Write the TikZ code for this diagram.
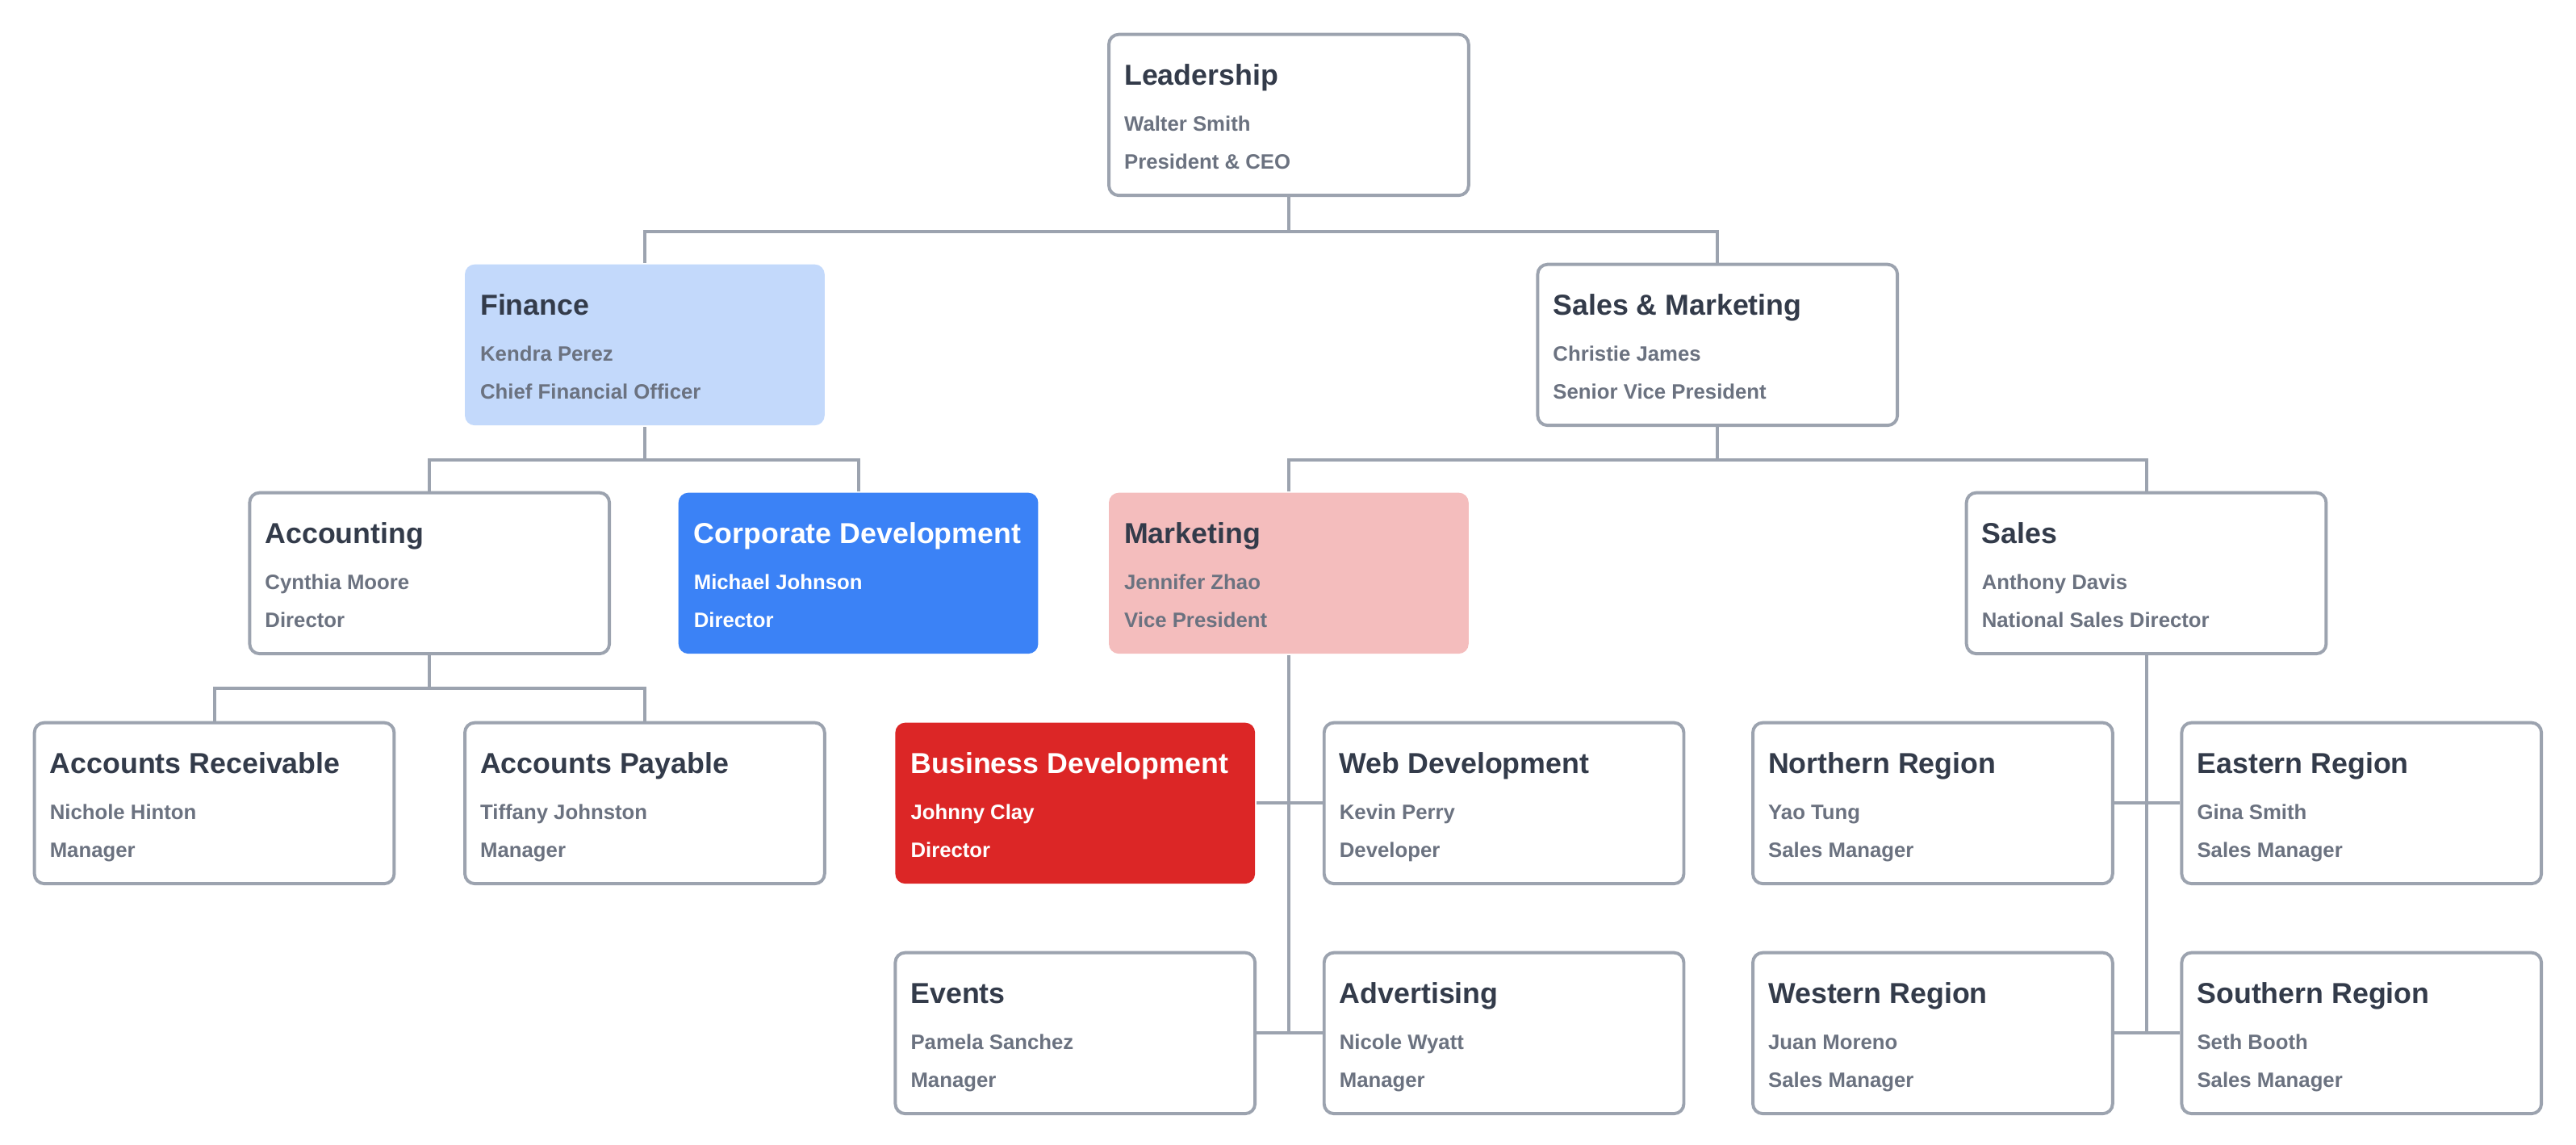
\documentclass[tikz,border=0pt]{standalone}
\usepackage{fontspec}
\setmainfont{Liberation Sans}
\usepackage{tikz}
\usetikzlibrary{positioning}

\definecolor{edge}{HTML}{9CA3AF}
\definecolor{ink}{HTML}{333B4A}
\definecolor{muted}{HTML}{6B7280}
\definecolor{finblue}{HTML}{C3D9FB}
\definecolor{corpblue}{HTML}{3B82F6}
\definecolor{mktpink}{HTML}{F4BDBD}
\definecolor{bizred}{HTML}{DC2626}

% #1 text style, #2 name, #3 box style, #4 position, #5 unit, #6 person, #7 role
\newcommand{\orgbox}[7][]{%
  \node[#3] (#2) at #4 {};
  \node[unitname, #1] (#2-u) at ([shift={(10,32)}]#2.north west) {#5};
  \node[person, #1] (#2-p) at ([shift={(10,60)}]#2.north west) {#6};
  \node[person, #1] (#2-r) at ([shift={(10,83)}]#2.north west) {#7};
}

\begin{document}
\begin{tikzpicture}[
            x=0.02cm, y=-0.02cm,
            box/.style={rectangle, rounded corners=3.4pt, draw=edge, line width=1.1pt, fill=white, minimum width=4.38cm, minimum height=1.96cm, anchor=north west, inner sep=0pt},
            finbox/.style={box, draw=none, fill=finblue},
            corpbox/.style={box, draw=none, fill=corpblue},
            mktbox/.style={box, draw=none, fill=mktpink},
            bizbox/.style={box, draw=none, fill=bizred},
            unitname/.style={anchor=base west, inner sep=0pt, font=\bfseries\fontsize{10}{12}\selectfont, text=ink},
            person/.style={anchor=base west, inner sep=0pt, font=\bfseries\fontsize{7.2}{9}\selectfont, text=muted},
            link/.style={draw=edge, line width=1.1pt}
        ]
            \useasboundingbox (0,0) rectangle (1568,697);

            \orgbox{lead}{box}{(674,20)}{Leadership}{Walter Smith}{President \& CEO}
                \orgbox{fin}{finbox}{(282,160)}{Finance}{Kendra Perez}{Chief Financial Officer}
                    \orgbox{acc}{box}{(151,299)}{Accounting}{Cynthia Moore}{Director}
                        \orgbox{ar}{box}{(20,439)}{Accounts Receivable}{Nichole Hinton}{Manager}
                        \orgbox{ap}{box}{(282,439)}{Accounts Payable}{Tiffany Johnston}{Manager}
                    \orgbox[text=white]{corp}{corpbox}{(412,299)}{Corporate Development}{Michael Johnson}{Director}
                \orgbox{sm}{box}{(935,160)}{Sales \& Marketing}{Christie James}{Senior Vice President}
                    \orgbox{mkt}{mktbox}{(674,299)}{Marketing}{Jennifer Zhao}{Vice President}
                        \orgbox[text=white]{biz}{bizbox}{(544,439)}{Business Development}{Johnny Clay}{Director}
                        \orgbox{web}{box}{(805,439)}{Web Development}{Kevin Perry}{Developer}
                        \orgbox{evt}{box}{(544,579)}{Events}{Pamela Sanchez}{Manager}
                        \orgbox{adv}{box}{(805,579)}{Advertising}{Nicole Wyatt}{Manager}
                    \orgbox{sales}{box}{(1196,299)}{Sales}{Anthony Davis}{National Sales Director}
                        \orgbox{nor}{box}{(1066,439)}{Northern Region}{Yao Tung}{Sales Manager}
                        \orgbox{eas}{box}{(1327,439)}{Eastern Region}{Gina Smith}{Sales Manager}
                        \orgbox{wes}{box}{(1066,579)}{Western Region}{Juan Moreno}{Sales Manager}
                        \orgbox{sou}{box}{(1327,579)}{Southern Region}{Seth Booth}{Sales Manager}

            % tree links
            \draw[link] (lead.south) -- ++(0,21) -| (fin.north);
            \draw[link] (lead.south) -- ++(0,21) -| (sm.north);
            \draw[link] (fin.south) -- ++(0,20) -| (acc.north);
            \draw[link] (fin.south) -- ++(0,20) -| (corp.north);
            \draw[link] (sm.south) -- ++(0,20) -| (mkt.north);
            \draw[link] (sm.south) -- ++(0,20) -| (sales.north);
            \draw[link] (acc.south) -- ++(0,20) -| (ar.north);
            \draw[link] (acc.south) -- ++(0,20) -| (ap.north);
            \draw[link] (mkt.south) -- (mkt.south |- evt.east);
            \draw[link] (biz.east) -- (web.west);
            \draw[link] (evt.east) -- (adv.west);
            \draw[link] (sales.south) -- (sales.south |- wes.east);
            \draw[link] (nor.east) -- (eas.west);
            \draw[link] (wes.east) -- (sou.west);
        \end{tikzpicture}
\end{document}
